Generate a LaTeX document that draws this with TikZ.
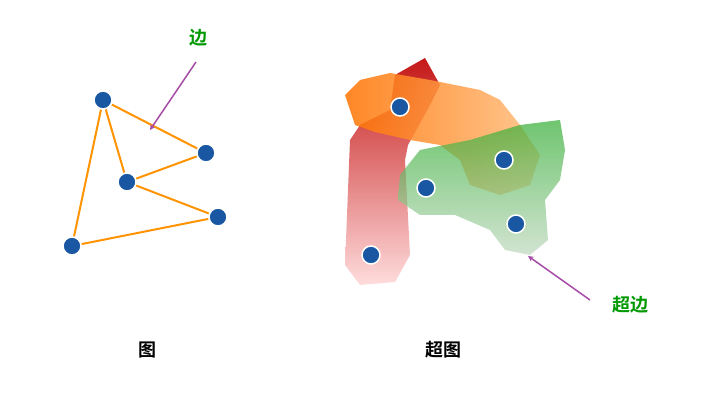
\documentclass[tikz,border=0pt]{standalone}
\usepackage{fontspec}
\newfontfamily\cjk{Noto Sans CJK SC Bold}
\begin{document}
\begin{tikzpicture}[x=1pt,y=-1pt,
 vert/.style={circle,draw=white,line width=1.5pt,fill=blue!55!cyan!60!black!90,minimum size=18pt,inner sep=0pt},
 edge/.style={draw=orange!85!yellow,line width=2pt},
 arr/.style={draw=violet!70!white,line width=1.5pt,-stealth},
 lab/.style={font=\cjk\fontsize{18}{18}\selectfont}]
\useasboundingbox (0,0) rectangle (716,401);
\fill[white] (0,0) rectangle (716,401);
% hypergraph regions
\shade[top color=red!75!black,bottom color=red!15,opacity=0.9]
 (395,75)--(425,58)--(440,85)--(430,105)--(408,145)--(405,160)--(410,255)--(395,282)--(360,285)--(345,265)--(350,140)--(360,125)--(390,110)--cycle;
\shade[left color=orange!90!red,right color=orange!50,opacity=0.85]
 (345,95)--(360,80)--(390,73)--(430,80)--(480,90)--(500,100)--(520,125)--(540,155)--(530,185)--(500,195)--(470,185)--(460,160)--(440,145)--(410,140)--(375,132)--(355,125)--cycle;
\shade[top color=green!60!black!80,bottom color=green!40!black!25,opacity=0.7]
 (400,175)--(420,150)--(470,140)--(520,125)--(560,120)--(565,150)--(560,180)--(545,200)--(548,240)--(530,255)--(505,250)--(490,230)--(455,215)--(420,215)--(398,200)--cycle;
% left graph
\node[vert] (a) at (103,100) {};
\node[vert] (b) at (206,153) {};
\node[vert] (c) at (127,182) {};
\node[vert] (d) at (218,217) {};
\node[vert] (e) at (72,246) {};
\begin{scope}[on background layer/.style={}]
\end{scope}
\path[edge] (a)--(b) (a)--(c) (c)--(b) (c)--(d) (d)--(e) (a)--(e);
\foreach \n in {a,b,c,d,e}{\node[vert] at (\n) {};}
\node[lab,text=green!60!black] (l1) at (198,38) {边};
\coordinate (t1) at (150,130);
\draw[arr] (196,62)--(t1);
% right nodes
\node[vert] (p) at (400,107) {};
\node[vert] (q) at (504,160) {};
\node[vert] (r) at (426,188) {};
\node[vert] (s) at (516,224) {};
\node[vert] (u) at (371,255) {};
\node[lab,text=green!60!black] (l2) at (630,305) {超边};
\coordinate (t2) at (528,256);
\draw[arr] (590,300)--(t2);
\node[lab] (g1) at (147,350) {图};
\node[lab] (g2) at (443,350) {超图};
\end{tikzpicture}
\end{document}
